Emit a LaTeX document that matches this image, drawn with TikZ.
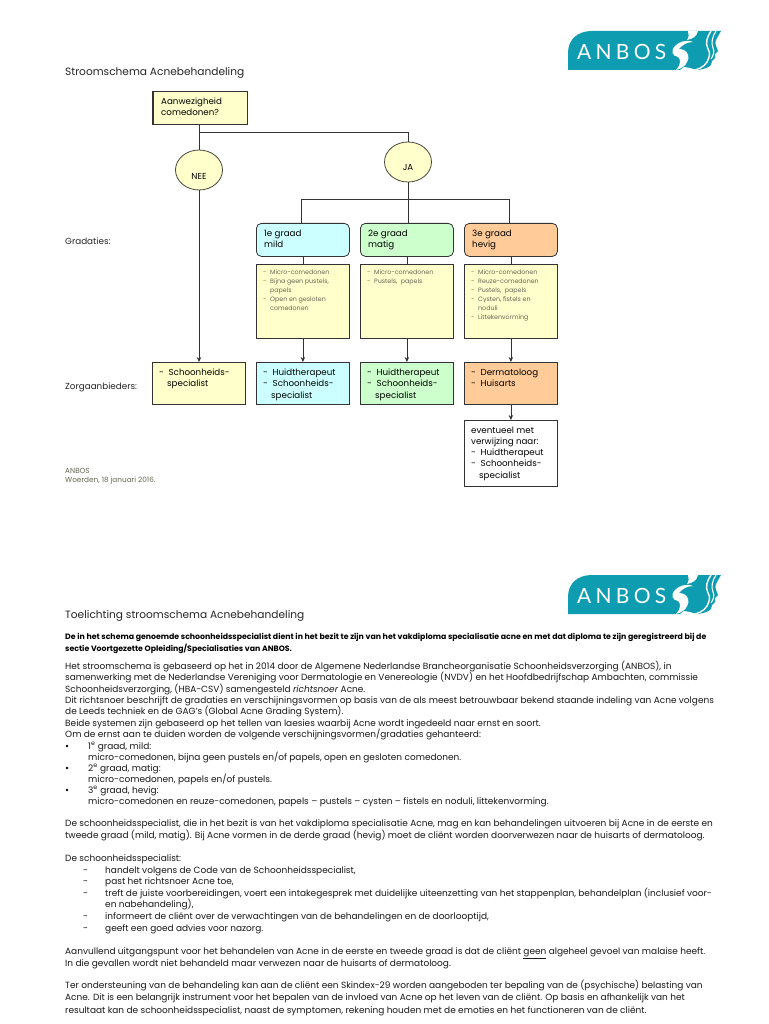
\documentclass[tikz,border=0pt]{standalone}
\usepackage{fontspec}
\setmainfont{Poppins}
\newfontfamily\logofont{Lato}
\definecolor{teal1}{HTML}{0E9DB0}
\definecolor{cream}{HTML}{FFFFCC}
\definecolor{cyan1}{HTML}{CCFFFF}
\definecolor{green1}{HTML}{CCFFCC}
\definecolor{orange1}{HTML}{FFCC99}
\definecolor{lineg}{HTML}{333333}
\definecolor{bul}{HTML}{666655}
\newcommand{\anboslogo}[2]{%
\begin{scope}[shift={(#1,#2)}]
\fill[teal1] (0,39) -- (0,22) .. controls (0,8) and (10,0) .. (24,0) -- (153,0) -- (149,7) .. controls (147,11) and (147,13) .. (148,15) -- (150,20) -- (147,23) -- (147,27) -- (144,30) -- (143,34) .. controls (140,37) and (136,38) .. (130,39) -- cycle;
\node[text=white,anchor=west,inner sep=0pt,font=\logofont\fontsize{21}{21}\selectfont] at (9,21) {\makebox[89pt][s]{A\hfil N\hfil B\hfil O\hfil S}};
% flame
\fill[white] (108,39) .. controls (116,37) and (122,31) .. (120,24) .. controls (119,20) and (115,18) .. (111,18) .. controls (114,14) and (119,11) .. (125,11) .. controls (118,8) and (110,11) .. (106,16) .. controls (103,20) and (104,25) .. (110,26) .. controls (113,28) and (113,34) .. (108,39) -- cycle;
% leaf
\fill[white] (120,0) -- (130,0) .. controls (129,5) and (125,8) .. (119,9) .. controls (121,6) and (121,3) .. (120,0) -- cycle;
% profiles
\draw[white,line width=1.4pt] (143,0) .. controls (139,6) and (137,12) .. (140,18) .. controls (143,22) and (141,27) .. (139,31) .. controls (136,36) and (130,39) .. (122,40);
\draw[white,line width=1.1pt] (148,0) .. controls (144,6) and (143,12) .. (145,17) .. controls (147,21) and (145,25) .. (143,28);
\fill[white] (112,39) -- (128,39) -- (122,37) -- (116,36) -- cycle;
\end{scope}}
\tikzset{
 x=1pt,y=-1pt,
 flowline/.style={draw=lineg,line width=0.75pt},
 flowarrow/.style={flowline,-{Stealth[length=5pt,width=4.5pt]}},
 box/.style={draw=lineg,line width=0.8pt,anchor=north west,inner sep=0pt},
 graad/.style={box,rounded corners=5pt,fill=#1},
 care/.style={box,fill=#1},
 oval/.style={draw=bul!70!black,line width=0.8pt,fill=cream,ellipse,minimum width=47pt,minimum height=40pt,inner sep=0pt},
 boxtext/.style={anchor=north west,inner sep=0pt,align=left,font=\fontsize{8.7}{11.1}\selectfont,text=black},
 smalltext/.style={anchor=north west,inner sep=0pt,align=left,font=\fontsize{6.3}{9}\selectfont,text=bul},
 bultext/.style={anchor=base west,inner sep=0pt,font=\fontsize{6.3}{9}\selectfont,text=bul!60!orange},
 foot/.style={anchor=north west,inner sep=0pt,align=left,font=\fontsize{7.3}{9}\selectfont,text=bul},
 head/.style={anchor=base west,inner sep=0pt,font=\fontsize{10.6}{12}\selectfont,text=black!85},
 label/.style={anchor=base west,inner sep=0pt,font=\fontsize{8.8}{10}\selectfont,text=black!85},
 body/.style={anchor=base west,inner sep=0pt,font=\fontsize{8.97}{10}\selectfont,text=black!90},
 boldbody/.style={anchor=base west,inner sep=0pt,font=\fontsize{7.8}{10}\selectfont\bfseries,text=black},
}
\usetikzlibrary{shapes.geometric,arrows.meta}
\newcommand{\bl}[3][65]{\node[body] at (#1,#2+3) {#3};}
\begin{document}
\begin{tikzpicture}
\useasboundingbox (0,0) rectangle (768,1024);
\fill[white] (0,0) rectangle (768,1024);
\anboslogo{568}{31}
\anboslogo{568}{575}
\node[head] (t1) at (65,76) {Stroomschema Acnebehandeling};
\node[label] (grad) at (65,244) {Gradaties:};
\node[label] (zorg) at (65,389) {Zorgaanbieders:};
\node[foot] (anb) at (65,468) {ANBOS\\Woerden, 18 januari 2016.};

% boxes
\node[box,fill=cream,minimum width=94pt,minimum height=33pt] (q) at (153,91) {};
\draw[line width=1.4pt,draw=lineg] (q.north west) -- (q.south west);
\node[boxtext] at (161,98) {Aanwezigheid\\comedonen?};

\node[oval] (nee) at (199,170) {}; \node[boxtext,anchor=base] at (199,180) {NEE};
\node[oval] (ja) at (408,162) {}; \node[boxtext,anchor=base] at (408,171) {JA};

\node[graad=cyan1,minimum width=93pt,minimum height=33pt] (g1) at (256,223) {};
\node[graad=green1,minimum width=93pt,minimum height=33pt] (g2) at (360,223) {};
\node[graad=orange1,minimum width=93pt,minimum height=33pt] (g3) at (464,223) {};
\node[boxtext] at (264,230) {1e graad\\mild};
\node[boxtext] at (368,230) {2e graad\\matig};
\node[boxtext] at (472,230) {3e graad\\hevig};

\node[care=cream,minimum width=93pt,minimum height=74pt] (s1) at (256,264) {};
\node[care=cream,minimum width=93pt,minimum height=74pt] (s2) at (360,264) {};
\node[care=cream,minimum width=93pt,minimum height=74pt] (s3) at (464,264) {};
\foreach \x/\y in {263/274.5,263/283,263/301,367/274.5,367/283,471/274.5,471/283,471/292,471/301,471/319}
  \node[bultext] at (\x,\y) {-};
\node[smalltext] at (270,270) {Micro-comedonen\\Bijna geen pustels,\\papels\\Open en gesloten\\comedonen};
\node[smalltext] at (374,270) {Micro-comedonen\\Pustels,\ \ papels};
\node[smalltext] at (478,270) {Micro-comedonen\\Reuze-comedonen\\Pustels,\ \ papels\\Cysten, fistels en\\noduli\\Littekenvorming};

\node[care=cream,minimum width=93pt,minimum height=42pt] (z0) at (152,362) {};
\node[care=cyan1,minimum width=93pt,minimum height=42pt] (z1) at (256,362) {};
\node[care=green1,minimum width=93pt,minimum height=42pt] (z2) at (360,362) {};
\node[care=orange1,minimum width=93pt,minimum height=42pt] (z3) at (464,362) {};
\node[box,fill=white,minimum width=93pt,minimum height=66pt] (v) at (464,420) {};
\node[boxtext] at (159,369) {-\ \ Schoonheids-\\\hspace*{8pt}specialist};
\node[boxtext] at (263,369) {-\ \ Huidtherapeut\\-\ \ Schoonheids-\\\hspace*{8pt}specialist};
\node[boxtext] at (367,369) {-\ \ Huidtherapeut\\-\ \ Schoonheids-\\\hspace*{8pt}specialist};
\node[boxtext] at (471,369) {-\ \ Dermatoloog\\-\ \ Huisarts};
\node[boxtext] at (471,427) {eventueel met\\verwijzing naar:\\-\ \ Huidtherapeut\\-\ \ Schoonheids-\\\hspace*{8pt}specialist};

% connectors
\coordinate (j0) at (199,133);
\coordinate (j1) at (408,133);
\coordinate (k1) at (301,199);
\coordinate (k2) at (408,199);
\coordinate (k3) at (509,199);
\draw[flowline] (q.south-|j0) -- (nee.north);
\draw[flowline,line width=1pt] (j0) -- (j1) -- (ja.north);
\draw[flowarrow] (nee.south) -- (nee.south|-z0.north);
\draw[flowline] (ja.south) -- (ja.south|-g2.north);
\draw[flowline] (k1|-g1.north) -- (k1) -- (k3) -- (k3|-g3.north);
\draw[flowline] (g1.south) -- (s1.north);
\draw[flowline] (g2.south) -- (s2.north);
\draw[flowline] (g3.south) -- (s3.north);
\draw[flowarrow] (s1.south) -- (z1.north);
\draw[flowarrow] (s2.south) -- (z2.north);
\draw[flowarrow] (s3.south) -- (z3.north);
\draw[flowarrow] (z3.south) -- (v.north);

% page 2
\node[head] at (65,618) {Toelichting stroomschema Acnebehandeling};
\node[boldbody] at (65,639) {De in het schema genoemde schoonheidsspecialist dient in het bezit te zijn van het vakdiploma specialisatie acne en met dat diploma te zijn geregistreerd bij de};
\node[boldbody] at (65,651) {sectie Voortgezette Opleiding/Specialisaties van ANBOS.};
\bl{666}{Het stroomschema is gebaseerd op het in 2014 door de Algemene Nederlandse Brancheorganisatie Schoonheidsverzorging (ANBOS), in}
\bl{677}{samenwerking met de Nederlandse Vereniging voor Dermatologie en Venereologie (NVDV) en het Hoofdbedrijfschap Ambachten, commissie}
\bl{689}{Schoonheidsverzorging, (HBA-CSV) samengesteld \textit{richtsnoer} Acne.}
\bl{700}{Dit richtsnoer beschrijft de gradaties en verschijningsvormen op basis van de als meest betrouwbaar bekend staande indeling van Acne volgens}
\bl{711}{de Leeds techniek en de GAG's (Global Acne Grading System).}
\bl{723}{Beide systemen zijn gebaseerd op het tellen van laesies waarbij Acne wordt ingedeeld naar ernst en soort.}
\bl{734}{Om de ernst aan te duiden worden de volgende verschijningsvormen/gradaties gehanteerd:}
\foreach \y in {746,768,790} \fill[black] (67,\y) circle (1.3);
\bl[88]{746}{1\textsuperscript{e} graad, mild:}
\bl[88]{757}{micro-comedonen, bijna geen pustels en/of papels, open en gesloten comedonen.}
\bl[88]{768}{2\textsuperscript{e} graad, matig:}
\bl[88]{779}{micro-comedonen, papels en/of pustels.}
\bl[88]{790}{3\textsuperscript{e} graad, hevig:}
\bl[88]{801}{micro-comedonen en reuze-comedonen, papels – pustels – cysten – fistels en noduli, littekenvorming.}
\bl{823}{De schoonheidsspecialist, die in het bezit is van het vakdiploma specialisatie Acne, mag en kan behandelingen uitvoeren bij Acne in de eerste en}
\bl{835}{tweede graad (mild, matig). Bij Acne vormen in de derde graad (hevig) moet de cliënt worden doorverwezen naar de huisarts of dermatoloog.}
\bl{858}{De schoonheidsspecialist:}
\foreach \y in {870,881,893,916,928} \node[body] at (83,\y+3) {-};
\bl[105]{870}{handelt volgens de Code van de Schoonheidsspecialist,}
\bl[105]{881}{past het richtsnoer Acne toe,}
\bl[105]{893}{treft de juiste voorbereidingen, voert een intakegesprek met duidelijke uiteenzetting van het stappenplan, behandelplan (inclusief voor-}
\bl[105]{904}{en nabehandeling),}
\bl[105]{916}{informeert de cliënt over de verwachtingen van de behandelingen en de doorlooptijd,}
\bl[105]{928}{geeft een goed advies voor nazorg.}
\bl{951}{Aanvullend uitgangspunt voor het behandelen van Acne in de eerste en tweede graad is dat de cliënt \underline{geen} algeheel gevoel van malaise heeft.}
\bl{963}{In die gevallen wordt niet behandeld maar verwezen naar de huisarts of dermatoloog.}
\bl{985}{Ter ondersteuning van de behandeling kan aan de cliënt een Skindex-29 worden aangeboden ter bepaling van de (psychische) belasting van}
\bl{997}{Acne. Dit is een belangrijk instrument voor het bepalen van de invloed van Acne op het leven van de cliënt. Op basis en afhankelijk van het}
\bl{1010}{resultaat kan de schoonheidsspecialist, naast de symptomen, rekening houden met de emoties en het functioneren van de cliënt.}
\end{tikzpicture}
\end{document}
